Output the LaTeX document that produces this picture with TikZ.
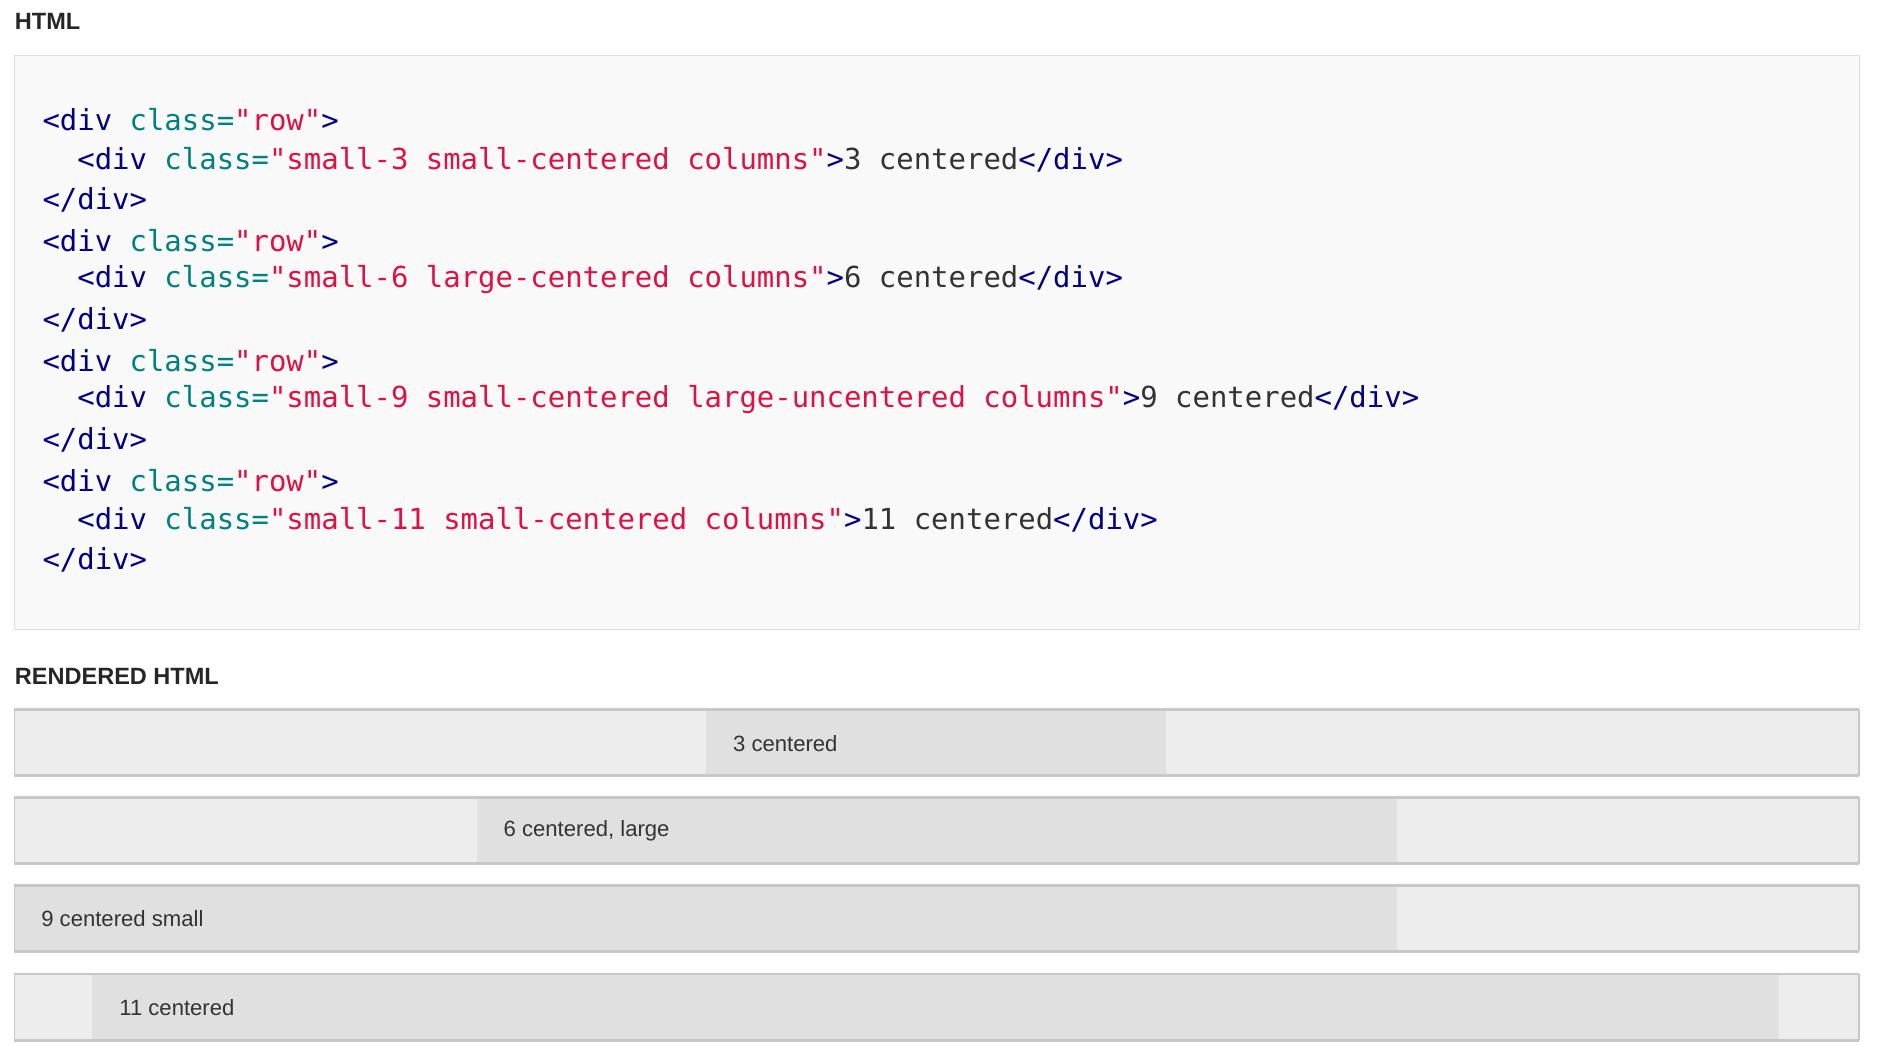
\documentclass[tikz,border=0pt]{standalone}
\usepackage{fontspec}
\setmainfont{Liberation Sans}
\newfontfamily\codef{DejaVu Sans Mono}
\definecolor{tg}{HTML}{000080}
\definecolor{at}{HTML}{008080}
\definecolor{st}{HTML}{DD1144}
\definecolor{tx}{HTML}{333333}
\newcommand{\T}[1]{\textcolor{tg}{#1}}
\newcommand{\A}[1]{\textcolor{at}{#1}}
\newcommand{\Sx}[1]{\textcolor{st}{#1}}
\begin{document}
\begin{tikzpicture}[x=0.5pt,y=-0.5pt,
  cl/.style={anchor=west,inner sep=0,font=\codef\fontsize{12.05}{14}\selectfont,text=tx},
  hd/.style={anchor=west,inner sep=0,font=\fontsize{9.8}{11}\selectfont\bfseries,text=black!85},
  rl/.style={anchor=west,inner sep=0,font=\fontsize{9.2}{11}\selectfont,text=tx}]
\useasboundingbox (0,0) rectangle (1567,870);
\node[hd] (h1) at (12,18) {HTML};
\draw[draw=black!13,fill=black!2.5] (12,46) rectangle (1548,524);
\node[cl] (l1) at (35,100) {\T{<div} \A{class=}\Sx{"row"}\T{>}};
\node[cl] (l2) at (35,133) {\ \ \T{<div} \A{class=}\Sx{"small-3 small-centered columns"}\T{>}3 centered\T{</div>}};
\node[cl] (l3) at (35,166) {\T{</div>}};
\node[cl] (l4) at (35,200) {\T{<div} \A{class=}\Sx{"row"}\T{>}};
\node[cl] (l5) at (35,233) {\ \ \T{<div} \A{class=}\Sx{"small-6 large-centered columns"}\T{>}6 centered\T{</div>}};
\node[cl] (l6) at (35,266) {\T{</div>}};
\node[cl] (l7) at (35,300) {\T{<div} \A{class=}\Sx{"row"}\T{>}};
\node[cl] (l8) at (35,333) {\ \ \T{<div} \A{class=}\Sx{"small-9 small-centered large-uncentered columns"}\T{>}9 centered\T{</div>}};
\node[cl] (l9) at (35,366) {\T{</div>}};
\node[cl] (l10) at (35,400) {\T{<div} \A{class=}\Sx{"row"}\T{>}};
\node[cl] (l11) at (35,433) {\ \ \T{<div} \A{class=}\Sx{"small-11 small-centered columns"}\T{>}11 centered\T{</div>}};
\node[cl] (l12) at (35,466) {\T{</div>}};
\node[hd] (h2) at (12,563) {RENDERED HTML};
\foreach \y/\a/\b/\t in {591/588/971/3 centered,664/397/1163/{6 centered, large},737/12/1163/9 centered small,811/77/1481/11 centered}{
  \fill[black!7] (12,\y) rectangle (1548,\y+55);
  \fill[black!12] (\a,\y) rectangle (\b,\y+55);
  \draw[black!22,line width=1.2pt] (12,\y) -- (1548,\y) (12,\y+55) -- (1548,\y+55);
  \draw[black!22,line width=0.6pt] (12,\y) -- (12,\y+55) (1548,\y) -- (1548,\y+55);
  \node[rl] at (\a+22,\y+28) {\t};
}
\end{tikzpicture}
\end{document}
